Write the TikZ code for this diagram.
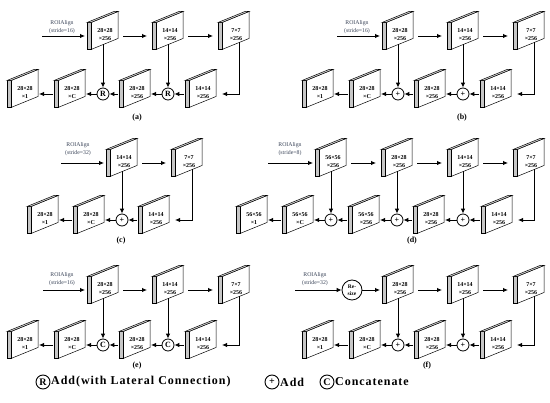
\documentclass[tikz,border=0pt]{standalone}
\usepackage{fontspec}
\setmainfont{Liberation Serif}
\newfontfamily\legfont[LetterSpace=8]{Liberation Serif}
\usetikzlibrary{arrows.meta,calc}
\definecolor{stripc}{gray}{0.78}
\definecolor{topc}{gray}{0.88}
\definecolor{roic}{RGB}{60,70,90}
\tikzset{
  fmbox/.style={rectangle,minimum width=31pt,minimum height=27pt,inner sep=0pt,outer sep=0pt},
  fmtext/.style={align=center,inner sep=0pt,font=\fontsize{6}{7.5}\selectfont\bfseries},
  arr/.style={line width=0.9pt,-{Latex[length=5pt,width=4.5pt]}},
  op/.style={circle,draw,line width=0.8pt,minimum size=12pt,inner sep=0pt,font=\fontsize{8}{8}\selectfont\bfseries},
  lop/.style={circle,draw,line width=0.9pt,minimum size=14pt,inner sep=0pt,font=\fontsize{10}{10}\selectfont\bfseries},
  roi/.style={align=center,inner sep=0pt,text=roic,font=\fontsize{5.8}{7.5}\selectfont},
  plabel/.style={inner sep=0pt,font=\fontsize{8}{8}\selectfont\bfseries},
  legt/.style={inner sep=0pt,anchor=west,font=\legfont\fontsize{12}{12}\selectfont\bfseries},
  boxline/.style={draw=black,line width=0.5pt}
}
\newcommand{\fmap}[5]{%
  \filldraw[boxline,fill=white] ({#2+4},{#3+13.5}) -- ({#2+4},{#3-13.5}) -- ({#2+31},{#3-24.5}) -- ({#2+31},{#3+2.5}) -- cycle;
  \filldraw[boxline,fill=stripc] (#2,{#3-13.5}) rectangle ({#2+4},{#3+13.5});
  \filldraw[boxline,fill=topc] (#2,{#3-13.5}) -- ({#2+4},{#3-13.5}) -- ({#2+31},{#3-24.5}) -- ({#2+27},{#3-24.5}) -- cycle;
  \node[fmbox] (#1) at ({#2+15.5},#3) {};
  \coordinate (#1-b) at ({#2+16},{#3+8.5});
  \coordinate (#1-d) at ({#2+21},{#3+6.5});
  \node[fmtext] (#1-t) at ({#2+18},{#3-1.5}) {#4\\#5};
}
\newcommand{\stdpanel}[5]{%
  \fmap{#1t1}{87+#2}{#3}{28×28}{×256}
  \fmap{#1t2}{152+#2}{#3}{14×14}{×256}
  \fmap{#1t3}{218+#2}{#3}{7×7}{×256}
  \fmap{#1b4}{185+#2}{#4}{14×14}{×256}
  \node[op] (#1c2) at ({168+#2},#4) {#5};
  \fmap{#1b5}{119+#2}{#4}{28×28}{×256}
  \node[op] (#1c1) at ({103+#2},#4) {#5};
  \fmap{#1b6}{54+#2}{#4}{28×28}{×C}
  \fmap{#1b7}{7+#2}{#4}{28×28}{×1}
  \draw[arr,shorten <=5pt,shorten >=5pt] (#1t1.east) -- (#1t2.west);
  \draw[arr,shorten <=5pt,shorten >=5pt] (#1t2.east) -- (#1t3.west);
  \draw[arr] (#1t3-d) |- ([xshift=6pt]#1b4.east);
  \draw[arr,shorten <=1pt] (#1b4.west) -- (#1c2.east);
  \draw[arr] (#1c2.north |- #1t2-b) -- (#1c2.north);
  \draw[arr,shorten >=1pt] (#1c2.west) -- (#1b5.east);
  \draw[arr,shorten <=1pt] (#1b5.west) -- (#1c1.east);
  \draw[arr] (#1c1.north |- #1t1-b) -- (#1c1.north);
  \draw[arr,shorten >=1pt] (#1c1.west) -- (#1b6.east);
  \draw[arr,shorten <=1pt,shorten >=1pt] (#1b6.west) -- (#1b7.east);
}
\begin{document}
\begin{tikzpicture}[x=1pt,y=-1pt]
\fill[white] (0,0) rectangle (550,403);
\useasboundingbox (0,0) rectangle (550,403);

% ---------- (a)
\stdpanel{a}{0}{36}{94}{R}
\node[roi] (aroi) at (62,27) {ROIAlign\\(stride=16)};
\coordinate (ain) at (42,36);
\draw[arr,shorten >=2pt] (ain) -- (at1.west);
\node[plabel] (alab) at (137,118) {(a)};

% ---------- (b)
\stdpanel{b}{295}{36}{94}{+}
\node[roi] (broi) at (357,27) {ROIAlign\\(stride=16)};
\coordinate (bin) at (337,36);
\draw[arr,shorten >=2pt] (bin) -- (bt1.west);
\node[plabel] (blab) at (462,118) {(b)};

% ---------- (c)
\fmap{ct1}{106}{163}{14×14}{×256}
\fmap{ct2}{171}{163}{7×7}{×256}
\fmap{cb3}{138}{220}{14×14}{×256}
\node[op] (cc1) at (122,220) {+};
\fmap{cb4}{73}{220}{28×28}{×C}
\fmap{cb5}{27}{220}{28×28}{×1}
\node[roi] (croi) at (78,149) {ROIAlign\\(stride=32)};
\coordinate (cin) at (61,163);
\draw[arr,shorten >=2pt] (cin) -- (ct1.west);
\draw[arr,shorten <=5pt,shorten >=5pt] (ct1.east) -- (ct2.west);
\draw[arr] (ct2-d) |- ([xshift=6pt]cb3.east);
\draw[arr,shorten <=1pt] (cb3.west) -- (cc1.east);
\draw[arr] (cc1.north |- ct1-b) -- (cc1.north);
\draw[arr,shorten >=1pt] (cc1.west) -- (cb4.east);
\draw[arr,shorten <=1pt,shorten >=1pt] (cb4.west) -- (cb5.east);
\node[plabel] (clab) at (121,241) {(c)};

% ---------- (d)
\fmap{dt1}{315}{163}{56×56}{×256}
\fmap{dt2}{381}{163}{28×28}{×256}
\fmap{dt3}{447}{163}{14×14}{×256}
\fmap{dt4}{513}{163}{7×7}{×256}
\fmap{db5}{481}{220}{14×14}{×256}
\node[op] (dc3) at (463,220) {+};
\fmap{db6}{413}{220}{28×28}{×256}
\node[op] (dc2) at (397,220) {+};
\fmap{db7}{348}{220}{56×56}{×256}
\node[op] (dc1) at (331,220) {+};
\fmap{db8}{282}{220}{56×56}{×C}
\fmap{db9}{236}{220}{56×56}{×1}
\node[roi] (droi) at (290,149) {ROIAlign\\(stride=8)};
\coordinate (din) at (268,163);
\draw[arr,shorten >=2pt] (din) -- (dt1.west);
\draw[arr,shorten <=5pt,shorten >=5pt] (dt1.east) -- (dt2.west);
\draw[arr,shorten <=5pt,shorten >=5pt] (dt2.east) -- (dt3.west);
\draw[arr,shorten <=5pt,shorten >=5pt] (dt3.east) -- (dt4.west);
\draw[arr] (dt4-d) |- ([xshift=6pt]db5.east);
\draw[arr,shorten <=1pt] (db5.west) -- (dc3.east);
\draw[arr] (dc3.north |- dt3-b) -- (dc3.north);
\draw[arr,shorten >=1pt] (dc3.west) -- (db6.east);
\draw[arr,shorten <=1pt] (db6.west) -- (dc2.east);
\draw[arr] (dc2.north |- dt2-b) -- (dc2.north);
\draw[arr,shorten >=1pt] (dc2.west) -- (db7.east);
\draw[arr,shorten <=1pt] (db7.west) -- (dc1.east);
\draw[arr] (dc1.north |- dt1-b) -- (dc1.north);
\draw[arr,shorten >=1pt] (dc1.west) -- (db8.east);
\draw[arr,shorten <=1pt,shorten >=1pt] (db8.west) -- (db9.east);
\node[plabel] (dlab) at (412,241) {(d)};

% ---------- (e)
\stdpanel{e}{0}{290}{345}{C}
\node[roi] (eroi) at (62,279) {ROIAlign\\(stride=16)};
\coordinate (ein) at (43,290);
\draw[arr,shorten >=2pt] (ein) -- (et1.west);
\node[plabel] (elab) at (137,366) {(e)};

% ---------- (f)
\stdpanel{f}{295}{290}{345}{+}
\node[roi] (froi) at (315,279) {ROIAlign\\(stride=32)};
\coordinate (fin) at (295,290);
\node[circle,draw,line width=0.8pt,minimum size=20pt,inner sep=0pt,align=center,font=\fontsize{5.5}{6.5}\selectfont\bfseries] (fres) at (352,290) {Re-\\size};
\draw[arr] (fin) -- (fres.west);
\draw[arr,shorten >=2pt] (fres.east) -- (ft1.west);
\node[plabel] (flab) at (427,366) {(f)};

% ---------- legend
\node[lop] (lr) at (43,382) {R};
\node[legt] (lrt) at (51,382) {Add(with Lateral Connection)};
\node[lop] (lp) at (272,382) {+};
\node[legt] (lpt) at (280,382) {Add};
\node[lop] (lc) at (327,382) {C};
\node[legt] (lct) at (335,382) {Concatenate};
\end{tikzpicture}
\end{document}
